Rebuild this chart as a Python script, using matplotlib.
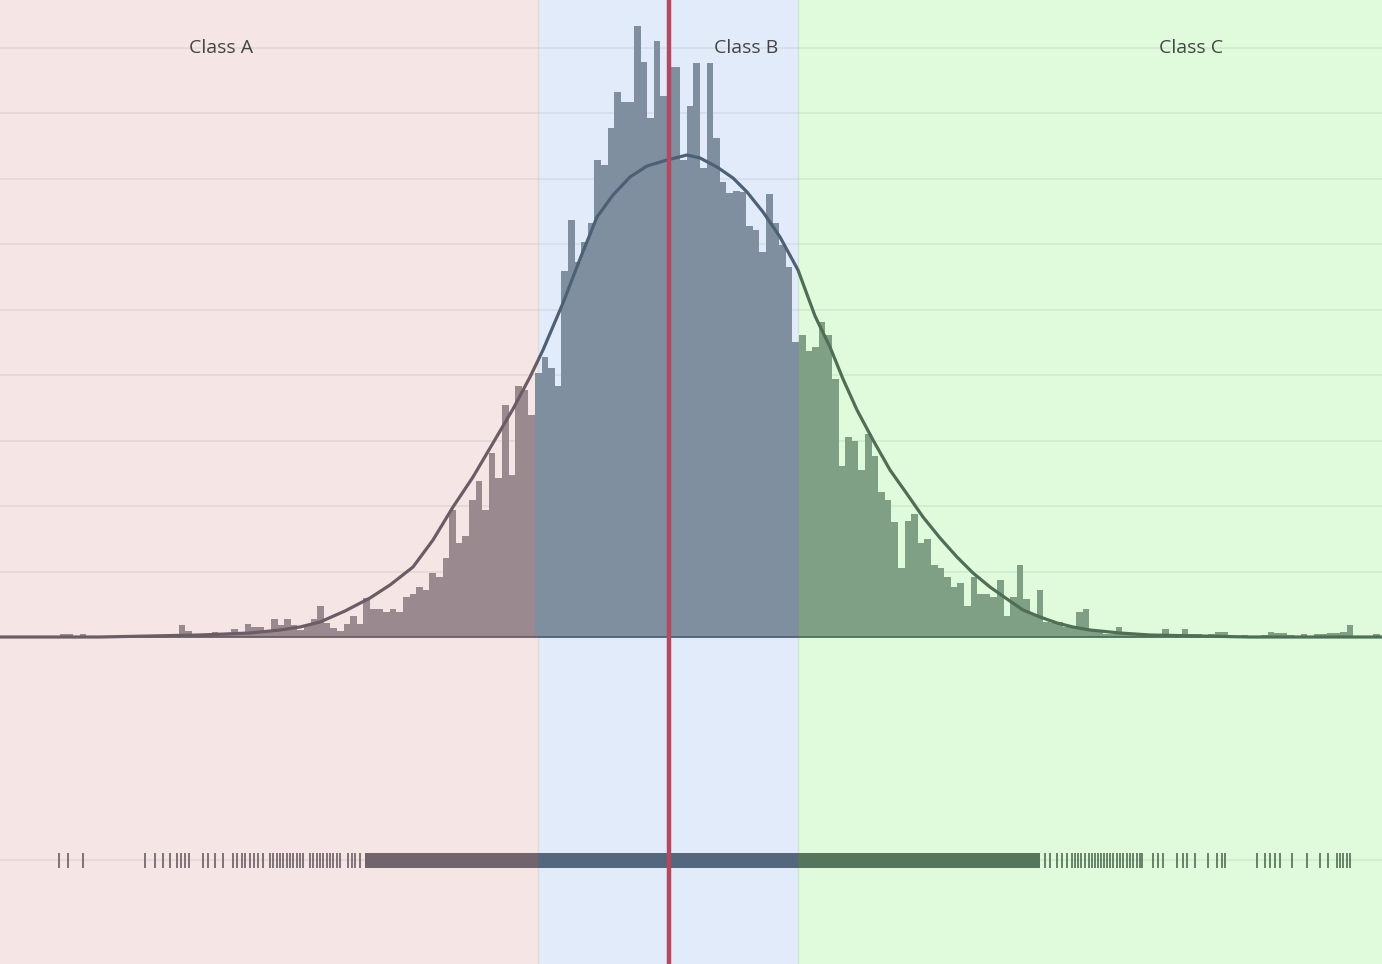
import matplotlib
matplotlib.use("Agg")
import matplotlib.pyplot as plt
from matplotlib.patches import Rectangle
import numpy as np

# bins: left edge of first bin and width (pixel-like units)
bin_start = 59.8
bin_width = 6.6
counts = [
    3, 3, 0, 3, 0, 0, 0, 0, 0, 0, 0, 0, 0, 2, 2, 2, 2, 3, 12, 6,
    2, 3, 2, 5, 3, 4, 8, 5, 13, 10, 10, 6, 18,
    12, 18, 12, 7, 12, 18, 31, 14, 9, 6, 13, 21, 13, 39, 28, 28, 25, 28, 25, 40,
    43, 50, 47, 64, 60, 79, 127, 94, 101, 137, 156, 127, 184, 159, 232, 162, 251, 247, 222,
    264, 280, 269, 251, 366, 417, 375, 395, 414, 477, 472, 509, 545, 535, 535, 611, 575, 519,
    596, 541, 570, 570, 477, 531, 574, 469, 574, 499, 455, 444, 446, 445, 411, 407, 385, 443,
    414, 392, 370, 295,
    302, 286, 290, 315, 302, 258, 171, 200, 196, 167, 203, 181, 145, 137, 115, 69, 116, 123,
    94, 98, 72, 69, 60, 50, 54, 31, 60, 43, 43, 40, 57, 21, 40, 72, 38, 22, 47, 15, 14, 15,
    10, 10, 25, 28, 7,
    5, 3, 3, 10, 5, 3, 2, 2, 2, 3, 8, 2, 2, 8, 3, 3, 0, 3, 5, 5, 0, 0, 2, 0, 0, 2, 5, 4, 4, 2,
    0, 3, 0, 3, 3, 4, 4, 5, 12, 0, 0, 0, 3,
]

curve_x = [0, 100, 150, 200, 250, 280, 300, 320, 345, 370, 390, 413, 433, 453, 473, 493,
           513, 530, 543, 563, 580, 597, 613, 630, 647, 667, 687, 700, 717, 733, 747, 763,
           780, 798, 815, 830, 843, 857, 873, 890, 907, 923, 940, 957, 973, 990, 1007, 1023,
           1040, 1057, 1073, 1090, 1120, 1150, 1200, 1250, 1382]
curve_y = [0, 0, 1, 2, 4, 7, 10, 15, 26, 39, 52, 70, 97, 130, 160, 194,
           228, 260, 287, 334, 378, 420, 442, 460, 471, 477, 482, 479, 470, 459, 445, 425,
           400, 367, 321, 290, 258, 227, 197, 167, 143, 120, 99, 80, 64, 50, 38, 27,
           20, 14, 10, 7, 4, 2, 1, 0, 0]

rug_ticks = [59, 68, 83, 145, 155, 163, 170, 177, 181, 185, 189, 203, 208, 215, 223,
             233, 237, 242, 245, 250, 254, 258, 263, 270, 273, 277, 280, 283, 287, 290, 293,
             297, 300, 303, 310, 313, 317, 320, 323, 327, 330, 333, 337, 340, 348, 352, 355,
             360, 1045, 1050, 1057, 1062, 1067, 1072, 1075, 1078, 1081, 1085, 1089, 1092,
             1095, 1098, 1101, 1104, 1107, 1110, 1113, 1117, 1120, 1123, 1127, 1130, 1133,
             1137, 1140, 1142, 1153, 1158, 1163, 1177, 1183, 1187, 1195, 1208, 1217, 1222,
             1225, 1257, 1265, 1270, 1275, 1280, 1292, 1307, 1320, 1328, 1337, 1340, 1343,
             1347, 1350, 1382]
rug_dense = (365, 1040)

regions = [(0, 538), (538, 798), (798, 1382)]
labels = ["Class A", "Class B", "Class C"]
label_x = [221, 746, 1191]
mean_x = 669

bg_colors = ["#f5e5e5", "#e2ebf9", "#dffbdb"]
bar_colors = ["#9a8a90", "#7f8fa0", "#80a085"]
line_colors = ["#6b5d66", "#4d6076", "#4f6e56"]

fig = plt.figure(figsize=(13.82, 9.64), dpi=100)
ax = fig.add_axes([0, 0, 1, 1])
ax.set_xlim(0, 1382)
ax.set_ylim(-327, 637)
ax.axis("off")

for (a, b), c in zip(regions, bg_colors):
    ax.axvspan(a, b, color=c, zorder=0, lw=0)
ax.axvline(538, color="#e6d6e0", lw=1, zorder=0.5)
ax.axvline(798, color="#d0e4d4", lw=1, zorder=0.5)

for k in range(1, 10):
    ax.axhline(k * 65.5, color="#000000", alpha=0.06, lw=1.2, zorder=1)
ax.axhline(-223, color="#000000", alpha=0.05, lw=1.5, zorder=1)


def region_of(x):
    for i, (a, b) in enumerate(regions):
        if a <= x < b:
            return i
    return 2


edges = bin_start + bin_width * np.arange(len(counts))
cols = [bar_colors[region_of(e + bin_width / 2)] for e in edges]
ax.bar(edges, counts, width=bin_width, align="edge", color=cols, lw=0, zorder=2)

for (a, b), c in zip(regions, line_colors):
    ln, = ax.plot(curve_x, curve_y, color=c, lw=2.3, zorder=3, solid_joinstyle="round")
    ln.set_clip_path(Rectangle((a, -400), b - a, 1200, transform=ax.transData))
    bl, = ax.plot([0, 1382], [0, 0], color=c, lw=1.3, zorder=3)
    bl.set_clip_path(Rectangle((a, -400), b - a, 1200, transform=ax.transData))

# rug
for i, ((a, b), c) in enumerate(zip(regions, line_colors)):
    xs = [x for x in rug_ticks if a <= x < b]
    ax.vlines(xs, -231, -216, color=c, lw=1.4, alpha=0.85, zorder=3)
    lo, hi = max(a, rug_dense[0]), min(b, rug_dense[1])
    if hi > lo:
        ax.add_patch(Rectangle((lo, -231), hi - lo, 15, color=c, alpha=0.95, lw=0, zorder=3))

ax.axvline(mean_x, color="#b5475f", lw=3.2, zorder=4)

for x, t in zip(label_x, labels):
    ax.text(x, 589, t, ha="center", va="center", fontsize=14, color="#444444",
            family="Open Sans", zorder=5)

fig.savefig("out.png", dpi=100)
